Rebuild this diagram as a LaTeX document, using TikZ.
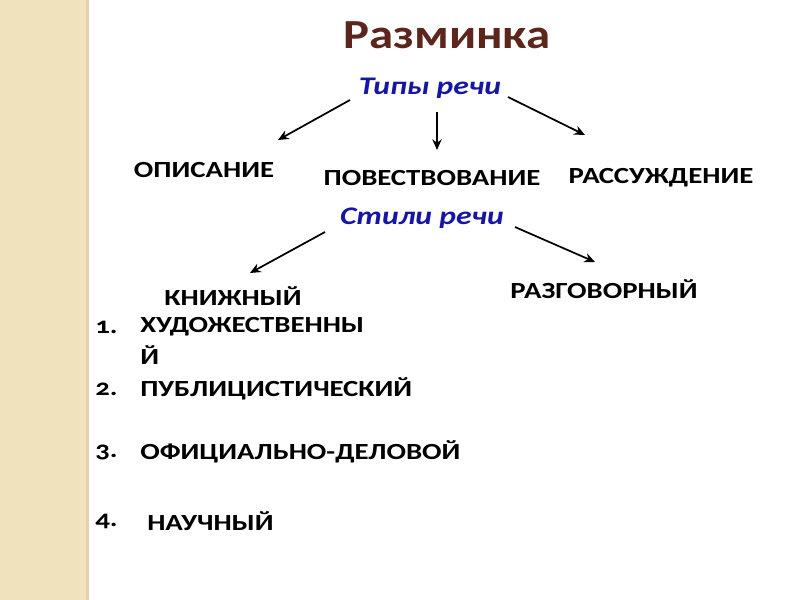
\documentclass[tikz,border=0pt]{standalone}
\usepackage{fontspec}
\setmainfont{Carlito}[Numbers=OldStyle]
\usetikzlibrary{arrows.meta}
\definecolor{strip}{RGB}{240,226,188}
\definecolor{titlec}{RGB}{92,38,28}
\definecolor{bluec}{RGB}{22,22,165}
\newcommand{\wide}[1]{\scalebox{1.25}[1]{#1}}
\tikzset{
  txt/.style={font=\fontsize{17.3}{19}\selectfont\bfseries, inner sep=0pt},
  blu/.style={font=\fontsize{19}{21}\selectfont\bfseries\itshape, text=bluec, inner sep=0pt},
  arr/.style={-{Stealth[length=8pt,width=7pt]}, line width=1.3pt},
  num/.style={font=\fontsize{17.3}{19}\selectfont\bfseries, inner sep=0pt, anchor=west},
}
\begin{document}
\begin{tikzpicture}[x=0.75pt,y=-0.75pt]
\useasboundingbox (0,0) rectangle (800,600);
\fill[white] (0,0) rectangle (800,600);
\fill[strip] (0,0) rectangle (86,600);
\fill[strip!70!brown!80] (86,0) rectangle (89,600);
\node[font=\fontsize{31}{34}\selectfont\bfseries, text=titlec, inner sep=0pt] (title) at (447,35) {\scalebox{1.18}[1]{Разминка}};
\node[blu] (tipy) at (430,88) {\wide{Типы речи}};
\coordinate (t1) at (350,100); \coordinate (t2) at (437,112); \coordinate (t3) at (508,97);
\node[txt] (op) at (204,170) {\wide{ОПИСАНИЕ}};
\node[txt] (pov) at (432,178) {\wide{ПОВЕСТВОВАНИЕ}};
\node[txt] (ras) at (661,178) {\wide{РАССУЖДЕНИЕ}};
\draw[arr] (t1) -- (278,140) coordinate (e1);
\draw[arr] (t2) -- (437,150) coordinate (e2);
\draw[arr] (t3) -- (585,135) coordinate (e3);
\node[blu] (stili) at (422,218) {\wide{Стили речи}};
\coordinate (s1) at (325,232); \coordinate (s2) at (515,227);
\draw[arr] (s1) -- (250,273);
\draw[arr] (s2) -- (595,262);
\node[txt] (kn) at (233,296) {\wide{КНИЖНЫЙ}};
\node[txt] (raz) at (604,289) {\wide{РАЗГОВОРНЫЙ}};
\node[num] (n1) at (95,327) {\wide{1.}};
\node[num] (l1) at (140,327) {\wide{ХУДОЖЕСТВЕННЫ}};
\node[num] (l1b) at (140,355) {\wide{Й}};
\node[num] (n2) at (95,389) {\wide{2.}};
\node[num] (l2) at (140,389) {\wide{ПУБЛИЦИСТИЧЕСКИЙ}};
\node[num] (n3) at (95,452) {\wide{3.}};
\node[num] (l3) at (140,452) {\wide{ОФИЦИАЛЬНО-ДЕЛОВОЙ}};
\node[num] (n4) at (95,521) {\wide{4.}};
\node[num] (l4) at (147,521) {\wide{НАУЧНЫЙ}};
\end{tikzpicture}
\end{document}
